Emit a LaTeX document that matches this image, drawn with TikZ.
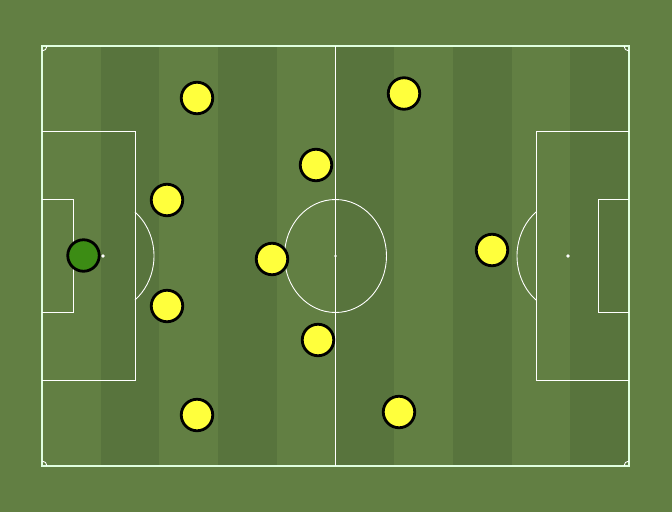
\documentclass[tikz,border=0pt]{standalone}
\begin{document}
\begin{tikzpicture}[x=1pt,y=-1pt,
  line/.style={draw=white,line width=0.9pt},
  outer/.style={draw=white!88!green,line width=1.3pt},
  player/.style={circle,draw=black,line width=2.8pt,fill=yellowp,minimum size=31.5pt,inner sep=0pt},
  keeper/.style={player,fill=keeperg}]
\definecolor{bgA}{HTML}{627F43}
\definecolor{bgB}{HTML}{58743D}
\definecolor{yellowp}{HTML}{FFFF3C}
\definecolor{keeperg}{HTML}{3C8C14}
\fill[bgA] (0,0) rectangle (672,512);
\useasboundingbox (0,0) rectangle (672,512);
% stripes
\foreach \i in {1,3,5,7,9}{
  \fill[bgB] ({42+\i*58.7},46) rectangle ({42+(\i+1)*58.7},466);
}
% outer boundary
\draw[outer] (42,46) rectangle (629,466);
% halfway line
\draw[line] (335.5,46) -- (335.5,466);
\draw[line] (335.5,256) ellipse [x radius=51,y radius=56.5];
\fill[white] (335.5,256) circle (1.3);
% left boxes
\draw[line] (42,131) -- (135,131) -- (135,380) -- (42,380);
\draw[line] (42,199.5) -- (73,199.5) -- (73,312) -- (42,312);
\fill[white] (103,256) circle (1.8);
\draw[line] (103,256) ++(-51.2:51 and 56.5) arc [start angle=-51.2,end angle=51.2,x radius=51,y radius=56.5];
% right boxes
\draw[line] (629,131) -- (536,131) -- (536,380) -- (629,380);
\draw[line] (629,199.5) -- (598,199.5) -- (598,312) -- (629,312);
\fill[white] (568,256) circle (1.8);
\draw[line] (568,256) ++(128.8:51 and 56.5) arc [start angle=128.8,end angle=231.2,x radius=51,y radius=56.5];
% corner arcs
\draw[line] (47,46) arc [start angle=0,end angle=90,radius=5];
\draw[line] (629,51) arc [start angle=90,end angle=180,radius=5];
\draw[line] (42,461) arc [start angle=270,end angle=360,radius=5];
\draw[line] (624,466) arc [start angle=180,end angle=270,radius=5];
% players
\node[keeper] (gk) at (83.5,255.5) {};
\node[player] (lb) at (197,98) {};
\node[player] (lcb) at (167,200) {};
\node[player] (rcb) at (167,306) {};
\node[player] (rb) at (197,415) {};
\node[player] (lm) at (316,165) {};
\node[player] (cm) at (272,259) {};
\node[player] (rm) at (318,340) {};
\node[player] (lw) at (404,93.5) {};
\node[player] (st) at (492,250) {};
\node[player] (rw) at (399,412) {};
\end{tikzpicture}
\end{document}
